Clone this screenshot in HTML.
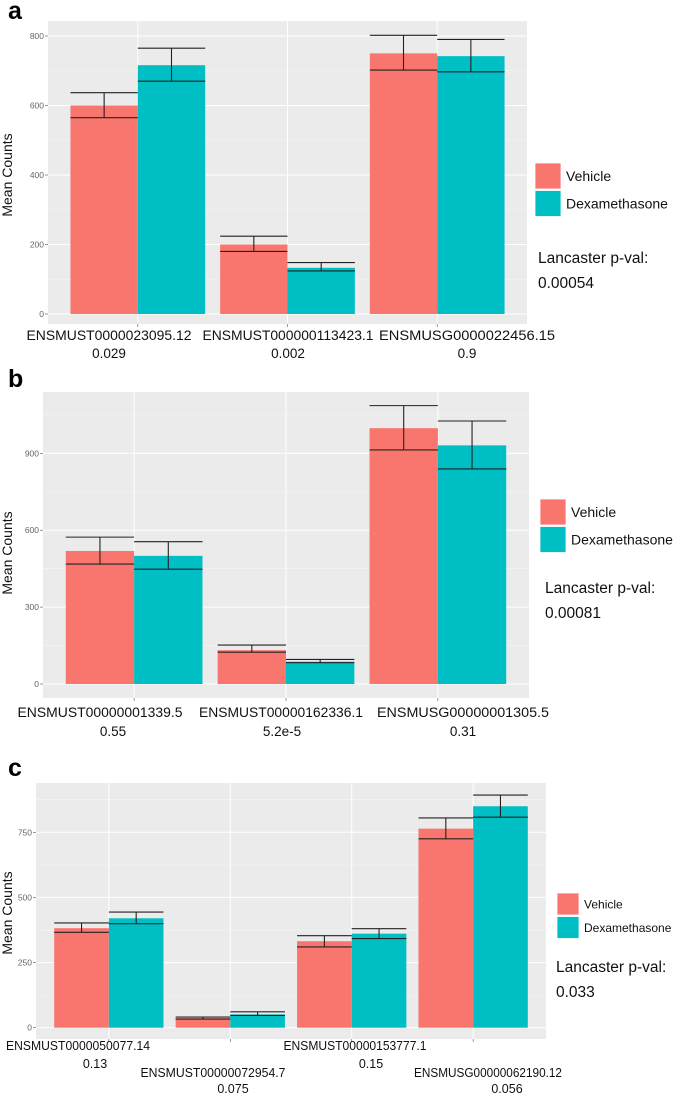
<!DOCTYPE html>
<html><head><meta charset="utf-8">
<style>
html,body{margin:0;padding:0;background:#fff;}
svg{display:block;font-family:"Liberation Sans",sans-serif;}
</style></head>
<body>
<svg id="fig" width="685" height="1094" viewBox="0 0 685 1094" xmlns="http://www.w3.org/2000/svg"></svg>
<script>
// ---- Panel a data ----
const aCategories = ["ENSMUST0000023095.12", "ENSMUST000000113423.1", "ENSMUSG0000022456.15"];
const aPvals = ["0.029", "0.002", "0.9"];
const aVehicle = [600, 200, 750];
const aVehicleLo = [565, 180, 702];
const aVehicleHi = [637, 224, 802];
const aDexa = [716, 133, 742];
const aDexaLo = [670, 124, 697];
const aDexaHi = [765, 148, 790];
const aTicks = [0, 200, 400, 600, 800];
const aLancaster = "0.00054";
// ---- Panel b data ----
const bCategories = ["ENSMUST00000001339.5", "ENSMUST00000162336.1", "ENSMUSG00000001305.5"];
const bPvals = ["0.55", "5.2e-5", "0.31"];
const bVehicle = [519, 132, 998];
const bVehicleLo = [468, 124, 913];
const bVehicleHi = [573, 152, 1086];
const bDexa = [500, 87, 931];
const bDexaLo = [448, 83, 839];
const bDexaHi = [555, 96, 1026];
const bTicks = [0, 300, 600, 900];
const bLancaster = "0.00081";
// ---- Panel c data ----
const cCategories = ["ENSMUST0000050077.14", "ENSMUST00000072954.7", "ENSMUST00000153777.1", "ENSMUSG00000062190.12"];
const cPvals = ["0.13", "0.075", "0.15", "0.056"];
const cVehicle = [382, 37, 332, 764];
const cVehicleLo = [366, 33, 310, 725];
const cVehicleHi = [402, 41, 353, 805];
const cDexa = [420, 51, 361, 850];
const cDexaLo = [399, 47, 342, 808];
const cDexaHi = [444, 61, 380, 893];
const cTicks = [0, 250, 500, 750];
const cLancaster = "0.033";

const NS = "http://www.w3.org/2000/svg";
const svg = document.getElementById("fig");
function mk(tag, attrs, parent, text) {
  const e = document.createElementNS(NS, tag);
  for (const k in attrs) e.setAttribute(k, attrs[k]);
  if (text !== undefined) e.textContent = text;
  (parent || svg).appendChild(e);
  return e;
}
const RED = "#f8766d", TEAL = "#00bfc4";

function panel(P) {
  const g = mk("g", {});
  
  
  const lt = mk("text", {x: P.letterX, y: P.letterY, "font-size": 25, "font-weight": "bold", fill: "#000"}, g, P.id);
  
  
  const L = P.left, R = P.right, T = P.top, B = P.bottom;
  const bg = mk("rect", {x: L, y: T, width: R - L, height: B - T, fill: "#ebebeb"}, g);
  
  
  const ticks = P.ticks;
  const tmax = ticks[ticks.length - 1];
  const yS = v => P.y0 - (P.y0 - P.yTop) * v / tmax;
  const step = ticks[1] - ticks[0];
  for (let v = step / 2; yS(v) > T; v += step) {
    const ml = mk("line", {x1: L, x2: R, y1: yS(v), y2: yS(v), stroke: "#f5f5f5", "stroke-width": 0.6}, g);
    
    
  }
  ticks.forEach(v => {
    const y = yS(v);
    const gl = mk("line", {x1: L, x2: R, y1: y, y2: y, stroke: "#fff", "stroke-width": 1}, g);
    
    
    const tk = mk("line", {x1: L - 3, x2: L, y1: y, y2: y, stroke: "#555", "stroke-width": 0.6}, g);
    
    
    const tl = mk("text", {x: L - 4, y: y + 3, "font-size": 8.5, fill: "#666", "text-anchor": "end"}, g, String(v));
    
    
  });
  const n = P.cats.length;
  const st = (R - L) / (n + 0.2);
  const bw = st * 0.45;
  const cx = i => L + (i + 0.6) * st;
  for (let i = 0; i < n; i++) {
    const vl = mk("line", {x1: cx(i), x2: cx(i), y1: T, y2: B, stroke: "#fff", "stroke-width": 1}, g);
    
    
    const xt = mk("line", {x1: cx(i), x2: cx(i), y1: B, y2: B + 3, stroke: "#555", "stroke-width": 0.6}, g);
    
    
  }
  const series = [
    {vals: P.veh, lo: P.vehLo, hi: P.vehHi, col: RED, off: -1, nm: "vehicle"},
    {vals: P.dex, lo: P.dexLo, hi: P.dexHi, col: TEAL, off: 0, nm: "dexamethasone"}
  ];
  series.forEach(s => {
    for (let i = 0; i < n; i++) {
      const x = cx(i) + s.off * bw;
      const r = mk("rect", {x: x, y: yS(s.vals[i]), width: bw, height: yS(0) - yS(s.vals[i]), fill: s.col}, g);
      
      
    }
  });
  series.forEach(s => {
    for (let i = 0; i < n; i++) {
      const x = cx(i) + s.off * bw;
      const eg = mk("g", {stroke: "#222", "stroke-width": 1.1}, g);
      
      
      mk("line", {x1: x, x2: x + bw, y1: yS(s.hi[i]), y2: yS(s.hi[i])}, eg);
      mk("line", {x1: x, x2: x + bw, y1: yS(s.lo[i]), y2: yS(s.lo[i])}, eg);
      mk("line", {x1: x + bw / 2, x2: x + bw / 2, y1: yS(s.hi[i]), y2: yS(s.lo[i])}, eg);
    }
  });
  for (let i = 0; i < n; i++) {
    const lp = P.labelPos[i];
    const t = mk("text", {x: lp[0], y: lp[1], "font-size": P.labFs, fill: "#111", "text-anchor": "middle", textLength: lp[2], lengthAdjust: "spacingAndGlyphs"}, g, P.cats[i]);
    
    
    const p = mk("text", {x: lp[3], y: lp[4], "font-size": P.labFs, fill: "#111", "text-anchor": "middle"}, g, P.pv[i]);
    
    
  }
  const yt = mk("text", {x: 0, y: 0, "font-size": 14, fill: "#111", "text-anchor": "middle", transform: "translate(" + P.ytX + "," + P.ytY + ") rotate(-90)"}, g, "Mean Counts");
  
  
  const lg = P.leg;
  const leg = mk("g", {}, g);
  
  
  const r1 = mk("rect", {x: lg.x, y: lg.y, width: lg.s, height: lg.s, fill: RED, stroke: "#fff", "stroke-width": 0.8}, leg);
  
  
  const r2 = mk("rect", {x: lg.x, y: lg.y + lg.s + 1.5, width: lg.s, height: lg.s, fill: TEAL, stroke: "#fff", "stroke-width": 0.8}, leg);
  
  
  const t1 = mk("text", {x: lg.x + lg.s + 5, y: lg.y + lg.s * 0.5 + lg.fs * 0.36, "font-size": lg.fs, fill: "#111"}, leg, "Vehicle");
  
  
  const t2 = mk("text", {x: lg.x + lg.s + 5, y: lg.y + lg.s * 1.5 + 1.5 + lg.fs * 0.36, "font-size": lg.fs, fill: "#111"}, leg, "Dexamethasone");
  
  
  const l1 = mk("text", {x: P.lanX, y: P.lanY, "font-size": 15.5, fill: "#111"}, g, "Lancaster p-val:");
  
  
  const l2 = mk("text", {x: P.lanX, y: P.lanY + 25, "font-size": 15.5, fill: "#111"}, g, P.lan);
  
  
}

panel({id: "a", letterX: 8, letterY: 19, left: 48, right: 527, top: 21, bottom: 324, y0: 314, yTop: 36,
  ticks: aTicks, cats: aCategories, pv: aPvals, veh: aVehicle, vehLo: aVehicleLo, vehHi: aVehicleHi,
  dex: aDexa, dexLo: aDexaLo, dexHi: aDexaHi, labFs: 13.5,
  labelPos: [[109, 340, 165, 109, 358], [288, 340, 171, 288, 358], [467, 340, 176, 467, 358]],
  ytX: 12, ytY: 175, leg: {x: 535, y: 163, s: 26, fs: 14}, lanX: 538, lanY: 263, lan: aLancaster});
panel({id: "b", letterX: 8, letterY: 387, left: 43, right: 529, top: 392, bottom: 698, y0: 684, yTop: 453.3,
  ticks: bTicks, cats: bCategories, pv: bPvals, veh: bVehicle, vehLo: bVehicleLo, vehHi: bVehicleHi,
  dex: bDexa, dexLo: bDexaLo, dexHi: bDexaHi, labFs: 13.5,
  labelPos: [[100, 717, 165, 113, 736], [281, 717, 164, 282, 736], [463, 717, 172, 463, 736]],
  ytX: 12, ytY: 553, leg: {x: 540, y: 499, s: 26, fs: 14}, lanX: 545, lanY: 593, lan: bLancaster});
panel({id: "c", letterX: 8, letterY: 776, left: 36, right: 546, top: 783, bottom: 1039, y0: 1027.7, yTop: 832.3,
  ticks: cTicks, cats: cCategories, pv: cPvals, veh: cVehicle, vehLo: cVehicleLo, vehHi: cVehicleHi,
  dex: cDexa, dexLo: cDexaLo, dexHi: cDexaHi, labFs: 12.5,
  labelPos: [[78, 1050, 144, 95, 1068], [213, 1077, 145, 233, 1093], [355, 1050, 143, 371, 1068], [488, 1077, 148, 507, 1093]],
  ytX: 12, ytY: 913, leg: {x: 557, y: 893, s: 22, fs: 12}, lanX: 556, lanY: 972, lan: cLancaster});
</script>
</body></html>
